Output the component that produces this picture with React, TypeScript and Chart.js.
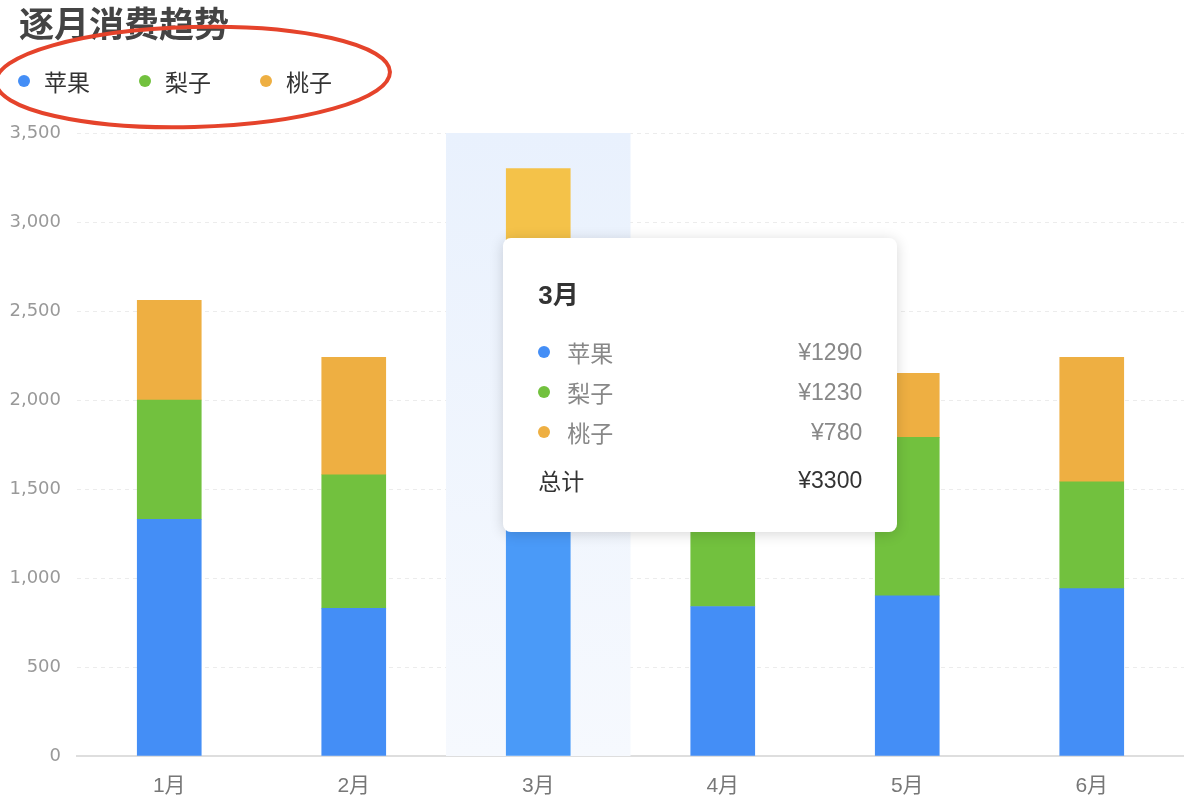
import { useEffect, useRef } from 'react';
import { Chart, registerables } from 'chart.js';

Chart.register(...registerables);

const FONT = '"Liberation Sans", "Noto Sans CJK SC", sans-serif';
const TICK_FONT = '"DejaVu Sans", "Noto Sans CJK SC", sans-serif';

const months = ['1月', '2月', '3月', '4月', '5月', '6月'];
const seriesNames = ['苹果', '梨子', '桃子'];
const apple = [1330, 830, 1290, 840, 900, 940];
const pear = [670, 750, 1230, 760, 890, 600];
const peach = [560, 660, 780, 600, 360, 700];
const seriesColors = ['#448ef6', '#72c13e', '#eeaf42'];
const hoverColors = ['#4a9af8', '#7cc84a', '#f4c249'];
const yTicks = { min: 0, max: 3500, step: 500 };
const activeMonth = 2;

const highlightBand = {
  id: 'highlightBand',
  beforeDatasetsDraw(chart: Chart) {
    const act = chart.getActiveElements();
    if (!act.length) return;
    const { ctx, chartArea, scales } = chart;
    const x = scales.x.getPixelForValue(act[0].index);
    const w = scales.x.width / months.length;
    const g = ctx.createLinearGradient(0, chartArea.top, 0, chartArea.bottom);
    g.addColorStop(0, '#e9f1fd');
    g.addColorStop(1, '#f6f9fe');
    ctx.save();
    ctx.fillStyle = g;
    ctx.fillRect(x - w / 2, chartArea.top, w, chartArea.bottom - chartArea.top);
    ctx.restore();
  },
};

export default function App() {
  const canvasRef = useRef<HTMLCanvasElement>(null);
  const tipRef = useRef<HTMLDivElement>(null);
  const chartRef = useRef<Chart | null>(null);

  useEffect(() => {
    if (!canvasRef.current) return;
    chartRef.current?.destroy();
    const values = [apple, pear, peach];
    const chart = new Chart(canvasRef.current, {
      type: 'bar',
      data: {
        labels: months,
        datasets: seriesNames.map((name, i) => ({
          label: name,
          data: values[i],
          backgroundColor: seriesColors[i],
          hoverBackgroundColor: hoverColors[i],
          borderWidth: 0,
          barThickness: 64,
        })),
      },
      plugins: [highlightBand],
      options: {
        animation: false,
        responsive: true,
        maintainAspectRatio: false,
        locale: 'en-US',
        events: [],
        layout: { padding: { top: 133, left: 0, right: 0, bottom: 0 } },
        plugins: {
          legend: { display: false },
          title: { display: false },
          tooltip: {
            enabled: false,
            mode: 'index',
            external: ({ tooltip }) => {
              const el = tipRef.current;
              if (!el) return;
              const pts = tooltip.dataPoints || [];
              if (!pts.length) {
                el.style.display = 'none';
                return;
              }
              const idx = pts[0].dataIndex;
              const total = pts.reduce((s, p) => s + (p.raw as number), 0);
              const rows = pts
                .map(
                  (p) => `<div style="display:flex;align-items:center;height:40px;color:#888">
                    <span style="width:12px;height:12px;border-radius:50%;background:${seriesColors[p.datasetIndex]};margin:0 17px 0 0"></span>
                    <span style="flex:1">${p.dataset.label}</span>
                    <span>¥${p.raw}</span></div>`
                )
                .join('');
              el.innerHTML = `<div style="font-weight:bold;font-size:26px;color:#333;height:34px;line-height:34px;margin-bottom:20px">${months[idx]}</div>
                ${rows}
                <div style="display:flex;align-items:center;height:40px;margin-top:8px;color:#333"><span style="flex:1">总计</span><span>¥${total}</span></div>`;
              el.style.display = 'block';
              el.style.left = `${chart.scales.x.getPixelForValue(idx) - 35}px`;
              el.style.top = `${chart.chartArea.top + 105}px`;
            },
          },
        },
        scales: {
          x: {
            stacked: true,
            grid: { display: false, drawTicks: false },
            border: { color: '#dedede', width: 2 },
            ticks: { color: '#777', font: { size: 21, family: FONT }, padding: 18 },
            afterFit: (s) => {
              s.height = 48;
            },
          },
          y: {
            stacked: true,
            min: yTicks.min,
            max: yTicks.max,
            grid: { color: '#ececec', drawTicks: false },
            border: { display: false, dash: [4, 4] },
            ticks: { stepSize: yTicks.step, color: '#999', font: { size: 18, family: TICK_FONT }, padding: 16 },
            afterFit: (s) => {
              s.width = 77;
            },
          },
        },
      },
    });
    chartRef.current = chart;
    const active = seriesNames.map((_, i) => ({ datasetIndex: i, index: activeMonth }));
    chart.setActiveElements(active);
    chart.tooltip?.setActiveElements(active, { x: 0, y: 0 });
    chart.update('none');
    return () => chartRef.current?.destroy();
  }, []);

  return (
    <div
      style={{
        position: 'fixed',
        left: 0,
        top: 0,
        width: 1184,
        height: 804,
        overflow: 'hidden',
        background: '#fff',
        fontFamily: FONT,
      }}
    >
      <div style={{ position: 'absolute', left: 0, top: 0, width: 1184, height: 804 }}>
        <canvas ref={canvasRef} />
      </div>
      <div
        style={{
          position: 'absolute',
          left: 19,
          top: 5,
          fontSize: 35,
          lineHeight: '40px',
          fontWeight: 'bold',
          color: '#444',
        }}
      >
        逐月消费趋势
      </div>
      <div style={{ position: 'absolute', left: 18, top: 61, display: 'flex', height: 40, alignItems: 'center' }}>
        {seriesNames.map((n, i) => (
          <div key={n} style={{ display: 'flex', alignItems: 'center', marginRight: 49 }}>
            <span
              style={{ width: 12, height: 12, borderRadius: '50%', background: seriesColors[i], marginRight: 14 }}
            />
            <span style={{ fontSize: 23, color: '#333' }}>{n}</span>
          </div>
        ))}
      </div>
      <div
        ref={tipRef}
        style={{
          position: 'absolute',
          display: 'none',
          width: 394,
          boxSizing: 'border-box',
          padding: '40px 35px 32px 35px',
          background: '#fff',
          borderRadius: 8,
          boxShadow: '0 2px 14px rgba(0,0,0,0.16)',
          fontSize: 23,
          zIndex: 2,
        }}
      />
      <svg
        width={420}
        height={140}
        style={{ position: 'absolute', left: 0, top: 0, overflow: 'visible', zIndex: 3 }}
      >
        <ellipse
          cx={193}
          cy={77}
          rx={197}
          ry={50}
          transform="rotate(-1.5 193 77)"
          fill="none"
          stroke="#e5432b"
          strokeWidth={4}
        />
      </svg>
    </div>
  );
}
